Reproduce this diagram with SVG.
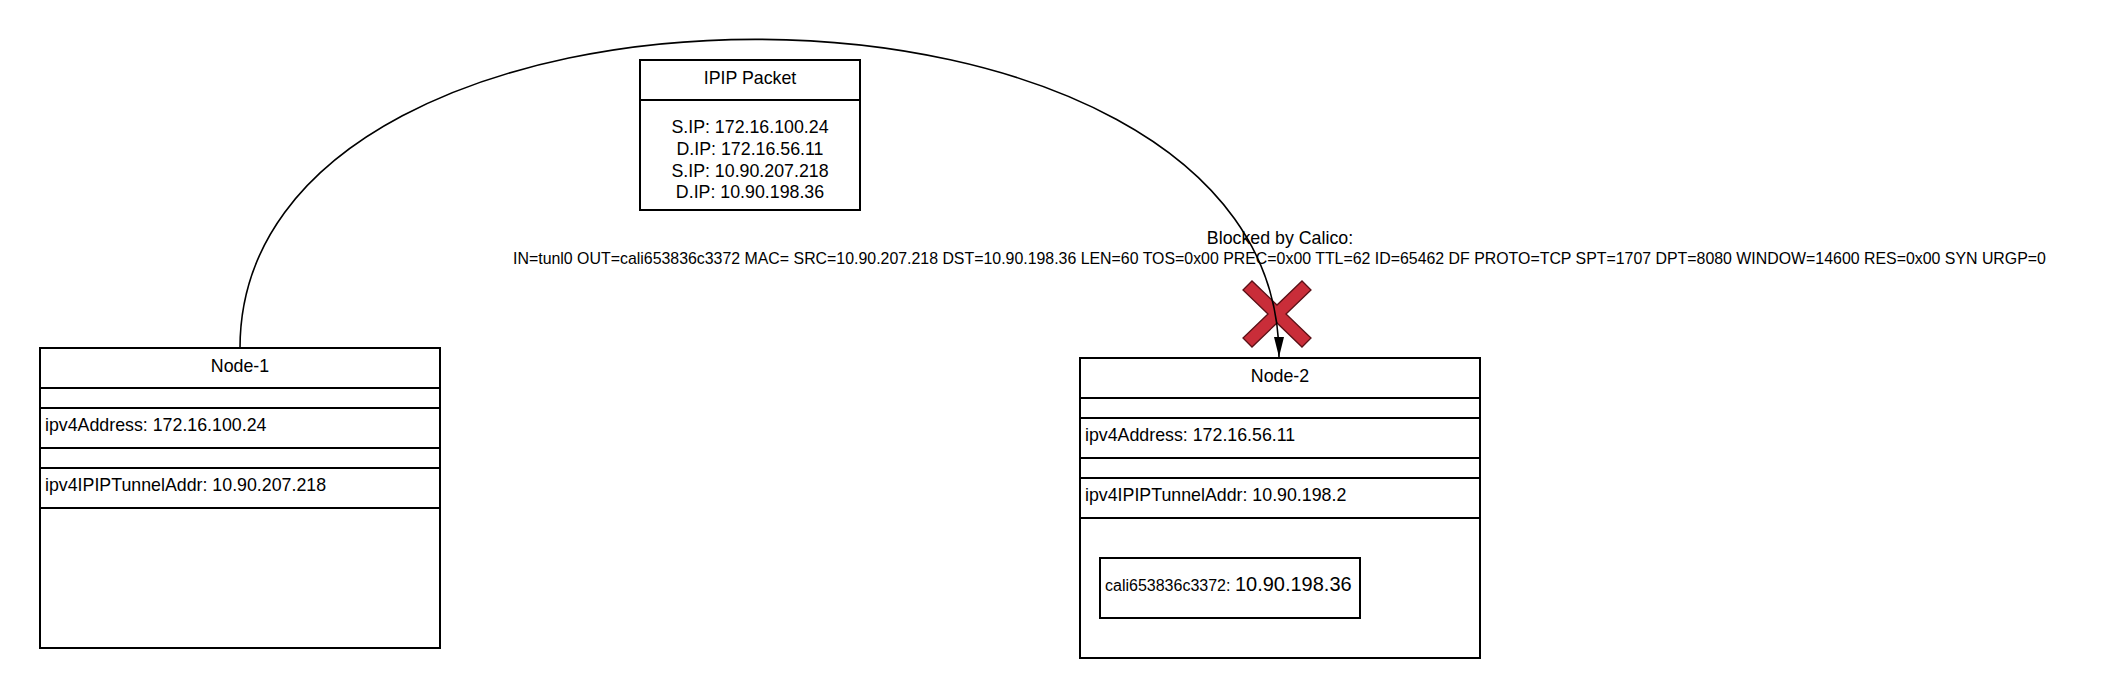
<svg xmlns="http://www.w3.org/2000/svg" width="2120" height="698" viewBox="0 0 2120 698">
<style>
.box{fill:#fff;stroke:#000;stroke-width:2}
.sep{stroke:#000;stroke-width:2;fill:none}
.t{font-family:"Liberation Sans",Arial,sans-serif;font-size:17.8px;fill:#000}
.c{text-anchor:middle}
.s{font-family:"Liberation Sans",Arial,sans-serif;font-size:17.8px;fill:#000;text-anchor:middle}
.conn{fill:none;stroke:#000;stroke-width:1.6}
.x{fill:#c92d39;stroke:#5a1016;stroke-width:1.3}
</style>
<defs>
<marker id="arrow" markerUnits="userSpaceOnUse" markerWidth="20" markerHeight="10" refX="20" refY="5" orient="auto">
<path d="M0,0 L20,5 L0,10 z" fill="#000"/>
</marker>
</defs>
<rect width="2120" height="698" fill="#fff"/>

<g id="node-1">
<rect class="box" x="40" y="348" width="400" height="300"/>
<path class="sep" d="M40,388H440M40,408H440M40,448H440M40,468H440M40,508H440"/>
<text class="t c" x="240" y="372">Node-1</text>
<text class="t" x="45" y="431">ipv4Address: 172.16.100.24</text>
<text class="t" x="45" y="491">ipv4IPIPTunnelAddr: 10.90.207.218</text>
</g>

<g id="node-2">
<rect class="box" x="1080" y="358" width="400" height="300"/>
<path class="sep" d="M1080,398H1480M1080,418H1480M1080,458H1480M1080,478H1480M1080,518H1480"/>
<text class="t c" x="1280" y="382">Node-2</text>
<text class="t" x="1085" y="441">ipv4Address: 172.16.56.11</text>
<text class="t" x="1085" y="501">ipv4IPIPTunnelAddr: 10.90.198.2</text>
</g>

<g id="cali-interface">
<rect class="box" x="1100" y="558" width="260" height="60"/>
<text class="t" x="1105" y="591"><tspan font-size="16px">cali653836c3372: </tspan><tspan font-size="20px">10.90.198.36</tspan></text>
</g>

<g id="ipip-packet">
<rect class="box" x="640" y="60" width="220" height="150"/>
<path class="sep" d="M640,100H860"/>
<text class="t c" x="750" y="84">IPIP Packet</text>
<text class="t c" x="750" y="133.3">S.IP: 172.16.100.24</text>
<text class="t c" x="750" y="155">D.IP: 172.16.56.11</text>
<text class="t c" x="750" y="176.6">S.IP: 10.90.207.218</text>
<text class="t c" x="750" y="197.6">D.IP: 10.90.198.36</text>
</g>

<g id="blocked-label">
<text class="s" x="1280" y="244">Blocked by Calico:</text>
<text class="s" x="1279.5" y="264" style="font-size:15.9px">IN=tunl0 OUT=cali653836c3372 MAC= SRC=10.90.207.218 DST=10.90.198.36 LEN=60 TOS=0x00 PREC=0x00 TTL=62 ID=65462 DF PROTO=TCP SPT=1707 DPT=8080 WINDOW=14600 RES=0x00 SYN URGP=0</text>
</g>

<g id="blocked-mark">
<polygon class="x" points="1243,290 1252,281 1277,305 1302,281 1311,290 1286,314 1311,338 1302,347 1277,323 1252,347 1243,338 1268,314"/>
</g>

<g id="connectors">
<path class="conn" d="M240,348 C240,-65 1279,-65 1279,357" marker-end="url(#arrow)"/>
</g>
</svg>
